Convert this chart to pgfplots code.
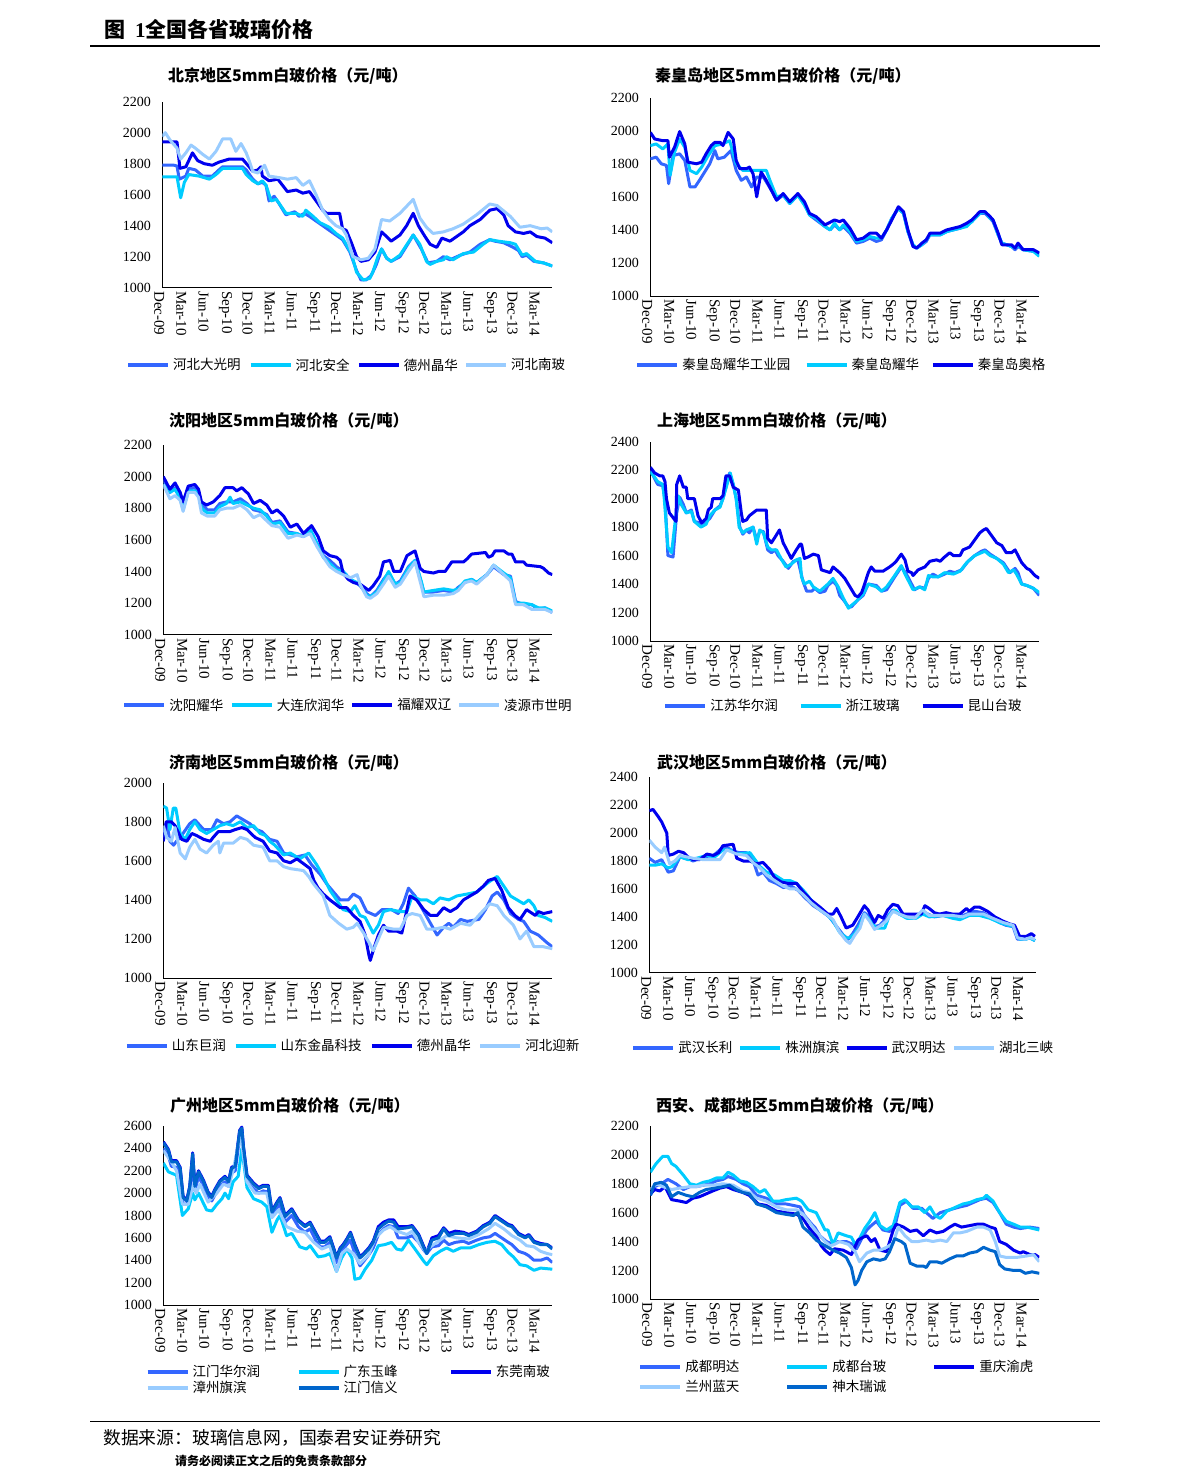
\documentclass[border=0pt]{standalone}
\usepackage{pgfplots}
\pgfplotsset{compat=1.18}
\usepackage{fontspec}
\setmainfont{Liberation Serif}
\newfontfamily\cjk{Noto Sans CJK SC}
\definecolor{cA}{RGB}{51,102,255}
\definecolor{cB}{RGB}{0,204,255}
\definecolor{cC}{RGB}{0,0,238}
\definecolor{cD}{RGB}{153,204,255}
\definecolor{cE}{RGB}{0,102,204}
\newcommand{\lgd}[2]{\makebox[#1][l]{\hspace{3pt}#2}}
\newcommand{\ttl}[1]{{\cjk\bfseries\fontsize{16}{18}\selectfont #1}}
\pgfplotsset{
  glass/.style={
    scale only axis,
    xmin=0, xmax=53, ymin=1000,
    axis x line=bottom, axis y line=left,
    axis line style={-, black, line width=0.8pt},
    major tick length=0pt,
    xtick={0,3,...,51},
    xticklabels={Dec-09,Mar-10,Jun-10,Sep-10,Dec-10,Mar-11,Jun-11,Sep-11,Dec-11,Mar-12,Jun-12,Sep-12,Dec-12,Mar-13,Jun-13,Sep-13,Dec-13,Mar-14},
    xticklabel style={rotate=-90, anchor=west, font=\fontsize{15}{17}\selectfont, yshift=-3pt},
    yticklabel style={font=\fontsize{14}{16}\selectfont, xshift=-8pt},
    /pgf/number format/assume math mode=true,
    /pgf/number format/1000 sep={},
    ytick distance=200,
    legend style={draw=none, fill=none, inner sep=0pt, column sep=0pt, nodes={inner sep=0pt}, anchor=west, font=\cjk\fontsize{13.5}{15}\selectfont},
    legend image code/.code={\draw[##1, line width=4pt] (0pt,0pt) -- (40pt,0pt);},
    every axis plot/.append style={line width=3pt, line join=round, mark=none},
  }
}
\begin{document}
\begin{tikzpicture}[x=1pt,y=1pt]
\useasboundingbox (0,0) rectangle (1191,1468);
% header
\node[anchor=west, inner sep=0pt] at (104,1438) {{\cjk\bfseries\fontsize{21}{23}\selectfont 图\hspace{10pt}}{\bfseries\fontsize{21}{23}\selectfont 1}{\cjk\bfseries\fontsize{21}{23}\selectfont 全国各省玻璃价格}};
\draw[line width=1.5pt] (90,1422) -- (1100,1422);
\draw[line width=0.8pt] (90,47) -- (1100,47);
\node[anchor=west, inner sep=0pt] at (103,30) {\cjk\fontsize{17.8}{19}\selectfont 数据来源：玻璃信息网，国泰君安证券研究};
\node[anchor=south west, inner sep=0pt] at (175,1.5) {\cjk\bfseries\fontsize{12}{13}\selectfont 请务必阅读正文之后的免责条款部分};
% titles
\node[anchor=west, inner sep=0pt] at (168,1392) {\ttl{北京地区5mm白玻价格（元/吨）}};
\node[anchor=west, inner sep=0pt] at (655,1392) {\ttl{秦皇岛地区5mm白玻价格（元/吨）}};
\node[anchor=west, inner sep=0pt] at (169,1047) {\ttl{沈阳地区5mm白玻价格（元/吨）}};
\node[anchor=west, inner sep=0pt] at (657,1047) {\ttl{上海地区5mm白玻价格（元/吨）}};
\node[anchor=west, inner sep=0pt] at (169,705) {\ttl{济南地区5mm白玻价格（元/吨）}};
\node[anchor=west, inner sep=0pt] at (657,705) {\ttl{武汉地区5mm白玻价格（元/吨）}};
\node[anchor=west, inner sep=0pt] at (170,362) {\ttl{广州地区5mm白玻价格（元/吨）}};
\node[anchor=west, inner sep=0pt] at (656,362) {\ttl{西安、成都地区5mm白玻价格（元/吨）}};

% ---------------- Chart 1 Beijing
\begin{axis}[glass, at={(162.3pt,1180.3pt)}, anchor=south west, width=390pt, height=186pt, ymax=2200,
  legend columns=4, legend style={at={(axis description cs:-0.093,-0.416)}}]
\addplot[cA] coordinates {(0,1790)(1.6,1790)(2,1785)(2.3,1700)(3.2,1720)(3.6,1770)(4.5,1760)(5.5,1720)(6.8,1720)(7.7,1760)(8.2,1780)(10.9,1780)(11.4,1760)(12.3,1700)(13,1670)(13.6,1680)(14.1,1660)(14.5,1560)(15.2,1590)(15.9,1540)(16.8,1470)(18,1490)(18.6,1460)(19.3,1480)(20,1460)(20.9,1430)(21.8,1400)(22.7,1370)(23.6,1340)(24.5,1310)(25.5,1230)(26.4,1110)(27,1050)(27.7,1050)(28.4,1080)(29.1,1150)(29.8,1250)(30.5,1190)(31.1,1170)(32.3,1200)(33.6,1300)(34.1,1340)(35.2,1250)(36.1,1160)(37.3,1170)(38.2,1200)(39.1,1180)(40.5,1210)(41.8,1230)(43.2,1280)(44.5,1310)(45.2,1300)(46.4,1290)(47.7,1260)(48.4,1240)(48.9,1200)(49.5,1210)(50.5,1170)(51.8,1160)(53,1140)};
\addlegendentry{\lgd{78.3pt}{河北大光明}}
\addplot[cB] coordinates {(0,1715)(2,1715)(2.5,1580)(3,1680)(3.6,1730)(5,1720)(6.4,1700)(7.3,1730)(8.2,1770)(10.9,1770)(11.4,1730)(12.3,1690)(13,1670)(13.6,1690)(14.1,1660)(14.8,1560)(15.5,1570)(16.8,1480)(18.2,1480)(19.1,1460)(19.5,1500)(20.5,1460)(21.4,1420)(22.7,1390)(23.6,1350)(24.5,1320)(25.7,1220)(26.4,1100)(27.3,1050)(28.2,1060)(28.6,1100)(29.3,1200)(29.8,1250)(30.5,1190)(31.1,1170)(32.3,1210)(33.4,1290)(34.1,1340)(35,1280)(35.9,1170)(36.4,1150)(37.3,1170)(38.2,1180)(38.6,1200)(39.5,1180)(40.9,1220)(42.3,1230)(43.6,1280)(44.5,1310)(45.7,1300)(47.3,1290)(48,1280)(48.9,1210)(49.5,1220)(50.7,1170)(51.8,1160)(53,1140)};
\addlegendentry{\lgd{64.3pt}{河北安全}}
\addplot[cC] coordinates {(0,1940)(2,1940)(2.4,1770)(3.2,1780)(4.1,1870)(4.8,1820)(5.7,1800)(6.8,1790)(7.7,1810)(9.1,1830)(10.9,1830)(11.8,1780)(12.3,1750)(13,1760)(13.4,1780)(13.6,1720)(14.5,1690)(15.7,1700)(17,1620)(18.2,1630)(19.1,1610)(20,1620)(20.9,1560)(21.8,1500)(22.3,1480)(24.1,1480)(24.5,1380)(25,1370)(25.7,1290)(26.4,1200)(27,1170)(28,1180)(28.9,1230)(29.8,1360)(30.7,1320)(31.1,1300)(32.3,1340)(33.2,1400)(34.1,1480)(34.8,1400)(35.7,1330)(36.4,1280)(37.3,1260)(38,1320)(39.1,1300)(40,1330)(40.9,1360)(41.8,1400)(43.2,1440)(44.5,1500)(45.5,1510)(46.4,1470)(47,1400)(48,1360)(49.1,1350)(50,1360)(50.9,1330)(52,1320)(53,1290)};
\addlegendentry{\lgd{63.3pt}{德州晶华}}
\addplot[cD] coordinates {(0,1975)(0.4,2000)(1.1,1950)(2,1900)(2.5,1830)(3.2,1870)(3.9,1920)(4.5,1900)(5.5,1860)(6.4,1830)(7.3,1880)(8.2,1960)(9.3,1960)(10,1880)(10.7,1930)(11.4,1870)(11.8,1820)(12.3,1750)(13,1740)(13.9,1790)(14.5,1720)(15.9,1710)(17,1700)(18.2,1710)(19.1,1660)(20,1690)(20.9,1600)(21.8,1500)(22.7,1440)(23.6,1400)(24.5,1380)(25,1340)(25.9,1200)(27,1180)(28,1190)(28.9,1250)(29.8,1440)(30.9,1430)(32.3,1480)(34.1,1570)(35,1450)(35.9,1390)(36.8,1350)(38.2,1360)(39.5,1380)(40.9,1410)(42.7,1470)(44.5,1540)(45.5,1530)(47.3,1460)(48.6,1390)(50,1400)(51.5,1380)(52.3,1385)(53,1360)};
\addlegendentry{\lgd{57.3pt}{河北南玻}}
\end{axis}

% ---------------- Chart 2 Qinhuangdao
\begin{axis}[glass, at={(650.3pt,1172pt)}, anchor=south west, width=389pt, height=198.3pt, ymax=2200,
  legend columns=3, legend style={at={(axis description cs:-0.039,-0.348)}}]
\addplot[cA] coordinates {(0,1830)(0.8,1840)(1.5,1800)(2.2,1790)(2.5,1680)(3.1,1850)(4,1860)(4.7,1820)(5.4,1660)(6.1,1660)(6.7,1700)(8.1,1800)(8.8,1880)(9.2,1830)(10.1,1840)(11,1880)(11.7,1760)(12.4,1700)(13.1,1720)(13.8,1660)(14.5,1720)(15.4,1720)(16.5,1640)(17.2,1580)(18.1,1610)(19,1560)(20.1,1610)(21,1560)(21.7,1490)(22.6,1460)(23.8,1420)(24.5,1400)(25.1,1430)(25.8,1400)(26.3,1420)(27.2,1380)(28.1,1320)(29,1330)(29.9,1350)(30.8,1330)(31.5,1340)(32.2,1400)(32.9,1470)(33.8,1530)(34.5,1500)(35.1,1390)(35.8,1300)(36.3,1290)(37,1310)(37.6,1330)(38.1,1370)(39.5,1370)(40.4,1390)(42.2,1410)(43.1,1430)(43.8,1450)(44.9,1500)(45.6,1500)(46.3,1470)(46.7,1450)(47.4,1370)(47.9,1320)(49.2,1300)(49.7,1280)(50.1,1300)(50.8,1280)(52.2,1270)(53,1260)};
\addlegendentry{\lgd{125.3pt}{秦皇岛耀华工业园}}
\addplot[cB] coordinates {(0,1910)(0.8,1920)(1.7,1890)(2.4,1920)(2.7,1730)(3.3,1870)(4,1950)(4.7,1900)(5.4,1760)(6.3,1740)(7,1780)(7.9,1850)(8.8,1910)(9.9,1920)(10.8,1940)(11.7,1800)(12.6,1760)(13.5,1760)(15.8,1760)(16.3,1700)(17.2,1600)(18.1,1610)(19,1560)(20.1,1610)(21,1550)(21.7,1490)(22.6,1470)(23.8,1420)(24.5,1400)(25.1,1440)(25.8,1400)(26.3,1430)(27.2,1390)(28.1,1330)(29,1340)(29.9,1360)(30.8,1350)(31.5,1350)(32.2,1400)(32.9,1470)(33.8,1530)(34.5,1500)(35.1,1390)(35.8,1310)(36.3,1290)(37,1310)(37.6,1340)(38.1,1370)(39.5,1370)(40.4,1390)(42.2,1410)(43.1,1420)(43.8,1450)(44.9,1500)(45.6,1510)(46.3,1470)(46.7,1460)(47.4,1370)(47.9,1320)(49.2,1300)(49.7,1290)(50.1,1310)(50.8,1280)(52.2,1270)(53,1240)};
\addlegendentry{\lgd{82.3pt}{秦皇岛耀华}}
\addplot[cC] coordinates {(0,1990)(0.6,1950)(1.7,1940)(2.4,1940)(2.6,1840)(3.3,1900)(4,1995)(4.7,1920)(5.1,1810)(6.3,1800)(7,1810)(7.6,1860)(8.3,1910)(8.8,1930)(9.5,1930)(9.9,1910)(10.6,1990)(11.3,1950)(11.7,1820)(12.2,1770)(13.1,1770)(13.5,1780)(14,1740)(14.5,1600)(15.1,1750)(15.8,1700)(16.5,1640)(17.2,1580)(18.1,1620)(19,1570)(20.1,1620)(21,1570)(21.7,1500)(22.6,1480)(23.8,1430)(25.1,1460)(25.8,1450)(26.3,1460)(27.2,1410)(28.1,1340)(29,1350)(29.9,1380)(30.8,1380)(31.5,1350)(32.2,1400)(32.9,1460)(33.8,1540)(34.5,1510)(35.1,1400)(35.8,1300)(36.3,1290)(37,1320)(37.6,1340)(38.1,1380)(39.5,1380)(40.4,1400)(42.2,1420)(43.1,1440)(43.8,1460)(44.9,1510)(45.6,1510)(46.3,1480)(46.7,1460)(47.4,1380)(47.9,1310)(49.2,1310)(49.7,1290)(50.1,1320)(50.8,1280)(52.2,1280)(53,1260)};
\addlegendentry{\lgd{70.3pt}{秦皇岛奥格}}
\end{axis}

% ---------------- Chart 3 Shenyang
\begin{axis}[glass, at={(163.3pt,833.3pt)}, anchor=south west, width=389pt, height=189.7pt, ymax=2200,
  legend columns=4, legend style={at={(axis description cs:-0.106,-0.371)}}]
\addplot[cA] coordinates {(0,1980)(0.9,1900)(1.6,1930)(2.3,1880)(2.7,1800)(3.4,1920)(4.3,1930)(4.8,1900)(5.2,1830)(6,1790)(7,1790)(7.7,1830)(8.6,1840)(9.5,1840)(10.5,1860)(11.4,1830)(12.3,1790)(13.2,1780)(14.1,1760)(14.8,1710)(15.9,1720)(17,1650)(18.2,1640)(19.1,1620)(20,1660)(20.9,1580)(21.8,1500)(22.7,1470)(23.6,1430)(24.5,1400)(25.5,1350)(26.8,1310)(27.7,1260)(28.2,1240)(29.1,1280)(30,1350)(30.7,1390)(31.6,1320)(32.3,1340)(33.4,1430)(34.3,1470)(35.2,1320)(35.5,1270)(36.8,1270)(38.2,1280)(39.5,1270)(40.2,1300)(41.1,1330)(42,1350)(42.7,1330)(44.1,1380)(45,1430)(46.4,1380)(47.3,1370)(48,1210)(49.1,1190)(50.2,1190)(51.1,1160)(52,1170)(53,1140)};
\addlegendentry{\lgd{63.7pt}{沈阳耀华}}
\addplot[cB] coordinates {(0,1950)(0.9,1900)(1.6,1920)(2.3,1860)(2.7,1790)(3.4,1910)(4.3,1910)(4.8,1890)(5.2,1800)(6,1770)(7,1770)(7.7,1810)(8.6,1830)(9.1,1870)(9.5,1830)(10.5,1840)(11.4,1820)(12.3,1800)(13.2,1790)(14.1,1750)(14.8,1700)(15.9,1710)(17,1640)(18.2,1640)(19.1,1620)(20,1670)(20.9,1580)(21.8,1490)(22.7,1450)(23.6,1410)(24.5,1400)(25.5,1350)(26.8,1320)(27.7,1250)(28.2,1240)(29.1,1270)(30,1340)(30.7,1400)(31.6,1320)(32.3,1330)(33.4,1420)(34.3,1470)(35.2,1330)(35.5,1270)(36.8,1280)(38.2,1290)(39.5,1280)(40.2,1290)(41.1,1340)(42,1350)(42.7,1330)(44.1,1380)(45,1440)(46.4,1390)(47.3,1360)(48,1200)(49.1,1200)(50.2,1190)(51.1,1170)(52,1170)(53,1150)};
\addlegendentry{\lgd{76.3pt}{大连欣润华}}
\addplot[cC] coordinates {(0,2000)(0.9,1920)(1.6,1960)(2.3,1900)(2.7,1840)(3.4,1940)(4.3,1950)(4.8,1920)(5.2,1840)(5.9,1820)(6.8,1840)(7.7,1880)(8.4,1930)(9.5,1930)(10,1910)(10.7,1930)(11.6,1890)(12.3,1830)(13.2,1850)(14.1,1820)(14.8,1770)(15.5,1790)(16.4,1750)(17.3,1680)(18.2,1700)(19.1,1640)(20.2,1690)(21.1,1620)(21.8,1530)(22.7,1500)(23.6,1490)(24.1,1470)(24.5,1390)(25.2,1350)(25.9,1330)(26.8,1320)(28,1280)(28.6,1310)(29.5,1370)(30,1460)(30.9,1470)(31.4,1400)(32.3,1400)(33.2,1500)(33.9,1520)(34.3,1530)(35,1420)(35.5,1400)(36.8,1390)(37.5,1400)(38.4,1400)(39.3,1460)(40.9,1460)(41.4,1480)(42,1510)(43.9,1520)(44.3,1490)(44.8,1500)(45.2,1530)(46.4,1530)(47,1510)(47.5,1510)(48,1460)(49.1,1460)(49.5,1440)(51.4,1430)(51.8,1420)(52.5,1390)(53,1380)};
\addlegendentry{\lgd{62.9pt}{福耀双辽}}
\addplot[cD] coordinates {(0,1950)(0.9,1860)(1.6,1880)(2.3,1850)(2.7,1780)(3.4,1900)(4.3,1900)(4.8,1870)(5.2,1770)(6,1750)(7,1750)(7.7,1790)(8.6,1800)(9.5,1800)(10.5,1820)(11.4,1790)(12.3,1740)(13.2,1760)(14.1,1720)(14.8,1690)(15.9,1680)(17,1610)(18.2,1630)(19.1,1620)(20,1640)(20.9,1560)(21.8,1490)(22.7,1430)(23.6,1400)(24.5,1380)(25.5,1360)(26.4,1380)(26.8,1320)(27.7,1240)(28.2,1230)(29.1,1260)(30,1320)(30.7,1370)(31.6,1300)(32.3,1320)(33.4,1400)(34.3,1460)(35.2,1300)(35.5,1240)(36.8,1250)(38.2,1250)(39.5,1260)(40.2,1280)(41.1,1330)(42,1340)(42.7,1320)(44.1,1380)(45,1440)(46.4,1380)(47.3,1340)(48,1190)(49.1,1190)(50.2,1160)(51.1,1160)(52,1160)(53,1140)};
\addlegendentry{\lgd{68.3pt}{凌源市世明}}
\end{axis}

% ---------------- Chart 4 Shanghai
\begin{axis}[glass, at={(650.3pt,827pt)}, anchor=south west, width=389pt, height=199.3pt, ymax=2400,
  legend columns=3, legend style={at={(axis description cs:0.033,-0.326)}}]
\addplot[cA] coordinates {(0,2200)(0.6,2140)(1,2100)(1.7,2090)(2,2000)(2.4,1600)(3.1,1590)(3.6,1900)(4,2010)(4.5,1960)(4.9,1900)(5.6,1920)(6,1840)(6.7,1830)(7.2,1810)(7.6,1840)(8.1,1860)(8.8,1920)(9.5,1950)(9.9,2000)(10.8,2180)(11.3,2100)(11.7,2000)(12.2,1800)(12.6,1750)(13.1,1780)(13.5,1760)(14,1800)(14.5,1710)(14.9,1770)(15.4,1770)(16,1640)(16.5,1620)(17,1640)(17.4,1600)(18.1,1560)(18.8,1510)(19.5,1560)(20.1,1570)(20.8,1420)(21.3,1350)(22,1350)(22.4,1370)(23.1,1340)(23.8,1350)(24.2,1390)(24.9,1420)(25.4,1390)(25.8,1320)(26.3,1290)(27,1240)(27.4,1240)(28.3,1290)(29,1320)(29.7,1400)(30.8,1390)(31.5,1350)(32.2,1360)(33.3,1450)(34.2,1520)(34.9,1470)(35.6,1400)(36,1360)(36.7,1380)(37.4,1370)(37.9,1440)(38.5,1470)(39.2,1450)(40.1,1470)(40.8,1490)(41.5,1480)(42.4,1500)(43.3,1560)(44.2,1600)(45.1,1630)(45.6,1640)(46.3,1610)(47.2,1580)(48.1,1550)(49,1480)(49.7,1510)(50.1,1480)(50.6,1400)(51.3,1390)(52.2,1370)(53,1320)};
\addlegendentry{\lgd{91.3pt}{江苏华尔润}}
\addplot[cB] coordinates {(0,2190)(0.6,2150)(1,2120)(1.7,2100)(1.9,2000)(2.4,1660)(2.9,1620)(3.3,1800)(3.8,2020)(4.2,1960)(4.9,1900)(5.6,1910)(6,1840)(6.9,1800)(7.6,1820)(8.1,1880)(8.8,1920)(9.5,1940)(9.9,2000)(10.9,2180)(11.3,2100)(11.7,2000)(12.1,1800)(12.6,1760)(13.1,1780)(14,1800)(14.5,1680)(14.9,1780)(15.4,1760)(16,1660)(16.5,1640)(17.2,1640)(17.9,1570)(18.5,1520)(19.2,1540)(19.9,1570)(20.4,1580)(20.6,1450)(21,1400)(21.7,1420)(22.2,1380)(23.1,1350)(24.2,1400)(24.9,1440)(25.6,1380)(26.3,1300)(27,1230)(27.4,1250)(28.1,1280)(29,1330)(29.7,1400)(30.8,1380)(31.5,1350)(32.2,1380)(33.3,1460)(34.2,1530)(34.7,1470)(35.4,1400)(35.8,1360)(36.7,1380)(37.4,1360)(37.9,1460)(38.5,1450)(39.2,1450)(40.1,1480)(41.3,1470)(42.2,1490)(43.1,1550)(44.2,1600)(45.1,1620)(45.6,1630)(46.3,1600)(47.2,1580)(48.1,1540)(48.8,1480)(49.5,1500)(49.9,1470)(50.6,1400)(51.3,1390)(52.2,1370)(53,1340)};
\addlegendentry{\lgd{78pt}{浙江玻璃}}
\addplot[cC] coordinates {(0,2220)(0.6,2180)(1.3,2160)(1.7,2160)(2,2120)(2.2,2000)(2.6,1900)(3.2,1860)(3.5,1840)(3.6,2100)(4,2160)(4.5,2080)(4.9,2080)(5.1,2000)(6,2000)(6.5,1880)(7,1830)(7.6,1860)(7.9,1920)(8.3,1940)(8.5,2000)(9.5,2000)(9.9,2020)(10.3,2160)(10.8,2160)(11.3,2080)(12,2060)(12.4,1900)(12.6,1840)(13.1,1850)(13.5,1880)(14,1900)(14.5,1920)(15.8,1920)(16,1720)(16.5,1690)(17,1730)(17.6,1780)(18.1,1690)(18.5,1650)(19.2,1580)(19.9,1640)(20.4,1680)(20.6,1680)(21,1580)(21.5,1590)(22.2,1610)(22.9,1600)(23.3,1500)(24.5,1480)(24.9,1520)(25.8,1480)(26.5,1440)(27.2,1380)(27.9,1320)(28.3,1310)(28.8,1340)(29.2,1400)(29.7,1480)(30.1,1520)(30.6,1490)(31.7,1490)(32.6,1520)(33.1,1540)(33.5,1560)(34.2,1610)(34.7,1570)(35.1,1490)(35.6,1480)(35.8,1460)(36.5,1500)(37.4,1520)(38.1,1560)(39,1570)(39.5,1560)(40.1,1590)(40.8,1620)(41.3,1600)(42.2,1600)(42.6,1640)(43.5,1660)(44.2,1710)(44.9,1760)(45.4,1780)(45.8,1790)(46.5,1740)(47.2,1690)(47.9,1670)(48.5,1620)(49.2,1620)(49.7,1640)(50.1,1600)(50.6,1550)(51.3,1510)(51.7,1500)(52.4,1460)(53,1440)};
\addlegendentry{\lgd{54.3pt}{昆山台玻}}
\end{axis}

% ---------------- Chart 5 Jinan
\begin{axis}[glass, at={(163.3pt,490pt)}, anchor=south west, width=389pt, height=195.3pt, ymax=2000,
  legend columns=4, legend style={at={(axis description cs:-0.099,-0.348)}}]
\addplot[cA] coordinates {(0,1720)(0.45,1800)(0.9,1700)(1.4,1680)(1.8,1700)(2.5,1730)(3.6,1790)(4.3,1810)(5.5,1760)(6.6,1760)(7.3,1810)(8.2,1790)(9.1,1800)(10,1830)(10.9,1810)(11.8,1790)(12.7,1760)(13.4,1750)(14.5,1710)(15.5,1700)(16.4,1640)(17.3,1630)(18.2,1620)(19.3,1630)(20.2,1580)(21.4,1530)(22.3,1480)(23.2,1440)(24.1,1400)(25.2,1400)(25.9,1430)(26.8,1410)(27.7,1340)(28.9,1320)(29.8,1350)(31.1,1350)(32,1330)(32.7,1380)(33.4,1460)(34.3,1420)(35.2,1360)(36.4,1280)(37.3,1220)(38.2,1260)(38.9,1280)(39.5,1260)(40.5,1300)(41.4,1290)(43,1300)(43.9,1350)(44.8,1420)(45.5,1440)(46.4,1400)(47.3,1330)(48.4,1300)(49.1,1290)(50,1240)(51.1,1220)(52.3,1180)(53,1160)};
\addlegendentry{\lgd{64.6pt}{山东巨润}}
\addplot[cB] coordinates {(0,1880)(0.45,1870)(0.9,1760)(1.36,1870)(1.7,1870)(2.3,1740)(3,1710)(3.6,1760)(4.3,1800)(5,1760)(5.9,1740)(6.8,1760)(7.7,1780)(8.6,1790)(9.5,1780)(10.5,1800)(11.4,1770)(12.3,1780)(13.2,1740)(13.9,1730)(14.5,1700)(15.2,1680)(16.4,1630)(17.3,1640)(18.6,1610)(19.8,1640)(20.9,1580)(21.8,1520)(22.7,1450)(23.6,1400)(24.5,1350)(25.5,1340)(26.1,1370)(26.8,1320)(27.5,1310)(28.6,1230)(29.3,1270)(30,1340)(30.9,1350)(32.3,1340)(33.2,1340)(33.9,1420)(35,1400)(35.9,1400)(36.8,1380)(37.7,1410)(38.9,1400)(40,1420)(41.4,1430)(42.7,1440)(44.3,1490)(45.5,1520)(46.4,1470)(47.3,1420)(48.2,1400)(49.1,1380)(49.8,1400)(50.5,1370)(51.1,1320)(52,1310)(53,1290)};
\addlegendentry{\lgd{92.3pt}{山东金晶科技}}
\addplot[cC] coordinates {(0,1700)(0.4,1800)(1.1,1800)(1.6,1780)(2.5,1710)(3.2,1700)(3.9,1740)(4.5,1730)(5.5,1710)(6.4,1700)(6.8,1720)(7.5,1750)(9.1,1750)(9.8,1760)(10.7,1770)(11.4,1760)(12.5,1720)(13.6,1700)(14.5,1650)(15.5,1640)(16.4,1600)(17.3,1590)(18.2,1610)(19.3,1580)(20,1560)(20.5,1500)(21.1,1460)(21.8,1430)(22.7,1400)(24.1,1360)(25,1360)(25.9,1320)(26.8,1290)(27.5,1220)(28,1120)(28.2,1090)(28.6,1140)(29.3,1220)(30,1270)(30.7,1240)(31.8,1240)(32.5,1230)(33.2,1350)(33.6,1420)(34.5,1400)(35.5,1350)(36.4,1320)(37.3,1320)(38.2,1360)(39.1,1340)(40,1360)(40.9,1400)(41.8,1420)(42.7,1440)(43.6,1470)(44.3,1500)(45.2,1510)(46.1,1450)(47,1360)(47.9,1320)(48.6,1300)(49.5,1350)(50.7,1320)(51.1,1340)(51.8,1330)(53,1340)};
\addlegendentry{\lgd{64.6pt}{德州晶华}}
\addplot[cD] coordinates {(0,1780)(0.45,1720)(1.1,1700)(1.6,1770)(2.3,1640)(3,1610)(3.6,1670)(4.3,1710)(5,1660)(5.9,1640)(6.8,1680)(7.5,1700)(7.7,1640)(8.2,1690)(9.5,1690)(10.5,1720)(11.4,1710)(12.3,1680)(13.6,1670)(14.5,1600)(15.5,1600)(16.4,1570)(17.3,1560)(19.1,1550)(19.8,1520)(20.5,1480)(21.8,1420)(22.7,1320)(23.9,1280)(25,1250)(25.9,1260)(26.4,1280)(27.3,1230)(28.2,1170)(28.6,1140)(29.3,1200)(30,1260)(31.4,1250)(32.3,1250)(33.2,1320)(33.9,1330)(35,1320)(35.9,1250)(36.8,1250)(38.2,1260)(39.1,1250)(40.5,1280)(41.8,1270)(43.2,1330)(44.5,1380)(45.5,1370)(46.4,1320)(47.7,1270)(48.6,1200)(49.5,1240)(50.5,1160)(51.8,1160)(53,1150)};
\addlegendentry{\lgd{54.3pt}{河北迎新}}
\end{axis}

% ---------------- Chart 6 Wuhan
\begin{axis}[glass, at={(649.3pt,495.3pt)}, anchor=south west, width=386.4pt, height=195.4pt, ymax=2400,
  legend columns=4, legend style={at={(axis description cs:-0.047,-0.385)}}]
\addplot[cA] coordinates {(0,1820)(0.8,1790)(1.7,1810)(2.6,1720)(3.3,1730)(4.2,1830)(5.6,1810)(6,1800)(7.4,1830)(8.8,1840)(9.7,1880)(10.6,1900)(11.5,1870)(12.4,1860)(13.3,1860)(14.2,1810)(14.9,1700)(15.6,1720)(16.5,1660)(17.4,1640)(18.4,1610)(19.5,1620)(20.4,1590)(21.3,1540)(22.5,1480)(23.4,1450)(24.7,1400)(25.7,1330)(26.6,1270)(27.3,1240)(27.9,1280)(28.6,1340)(29.5,1430)(30.2,1400)(30.9,1330)(31.6,1340)(32.5,1390)(33.4,1450)(34.3,1420)(35.3,1400)(36.2,1390)(36.8,1400)(37.5,1440)(38.2,1420)(39.1,1400)(40.3,1410)(41.6,1400)(42.6,1400)(43.5,1420)(44.6,1440)(45.8,1430)(47.1,1390)(48,1360)(48.9,1340)(49.9,1330)(50.5,1240)(51.5,1240)(52.2,1250)(52.9,1230)};
\addlegendentry{\lgd{63pt}{武汉长利}}
\addplot[cB] coordinates {(0,1770)(0.8,1770)(1.7,1780)(2.6,1750)(3.1,1760)(4.2,1830)(5.3,1810)(6.5,1820)(7.9,1840)(9,1830)(10.1,1880)(11.1,1880)(12,1850)(13.8,1860)(14.5,1810)(15.2,1760)(16.1,1720)(17.2,1700)(18.4,1660)(19.3,1660)(20.2,1640)(21.3,1580)(22.5,1500)(23.4,1450)(24.3,1420)(25.2,1370)(26.1,1290)(27,1250)(27.5,1250)(28.2,1280)(28.9,1340)(29.5,1420)(30.2,1380)(31.1,1320)(32.3,1320)(33,1420)(33.7,1450)(34.3,1420)(35.3,1390)(36.6,1390)(37.5,1420)(38.4,1400)(40.3,1410)(41.6,1390)(42.6,1380)(43.9,1410)(45.3,1410)(46.7,1390)(48,1360)(49.2,1340)(50.1,1330)(50.8,1240)(51.7,1240)(52.1,1250)(52.9,1230)};
\addlegendentry{\lgd{62.3pt}{株洲旗滨}}
\addplot[cC] coordinates {(0,2160)(0.5,2170)(1.2,2120)(1.7,2080)(2.4,2000)(2.6,1840)(3.3,1850)(4,1870)(4.7,1860)(5.3,1830)(6,1810)(6.9,1810)(7.9,1850)(8.8,1840)(9.5,1860)(10.1,1910)(11.5,1920)(12,1820)(12.9,1800)(13.8,1800)(14.7,1780)(15.6,1790)(16.5,1740)(17.2,1680)(18.1,1650)(19,1640)(20.2,1640)(21.1,1580)(22.2,1520)(23.4,1470)(24.5,1420)(25.2,1420)(25.7,1460)(26.3,1400)(27,1320)(27.9,1340)(28.6,1400)(29.5,1480)(30,1450)(30.9,1360)(31.4,1410)(32.1,1390)(32.7,1450)(33.4,1490)(34.1,1480)(34.8,1420)(35.9,1420)(36.8,1420)(37.3,1420)(37.8,1480)(38.4,1460)(39.1,1430)(39.8,1420)(40.7,1430)(41.6,1420)(42.6,1420)(43.5,1460)(43.9,1440)(44.6,1470)(45.3,1470)(46.4,1440)(47.4,1400)(48.5,1370)(49.4,1350)(50.1,1340)(50.8,1260)(51.7,1260)(52.4,1280)(52.9,1260)};
\addlegendentry{\lgd{63.6pt}{武汉明达}}
\addplot[cD] coordinates {(0,1950)(0.8,1900)(1.7,1860)(2.1,1900)(2.8,1780)(3.5,1800)(4.2,1840)(6,1820)(7.4,1810)(8.8,1810)(9.7,1810)(10.6,1880)(12,1850)(13.3,1840)(14.2,1790)(15.2,1750)(16.1,1700)(17.2,1660)(18.4,1620)(19.3,1600)(20.2,1600)(21.1,1560)(22.2,1500)(23.4,1450)(24.5,1410)(25.2,1380)(26.1,1290)(27,1230)(27.5,1210)(28.2,1270)(28.9,1320)(29.5,1420)(30.2,1370)(30.9,1310)(31.8,1340)(32.5,1370)(33.4,1440)(34.3,1420)(35.3,1400)(36.4,1390)(37.5,1450)(38.4,1410)(40.3,1410)(41.6,1410)(43,1400)(43.9,1420)(45.8,1420)(47.1,1390)(48.5,1360)(49.9,1340)(50.5,1250)(51.5,1240)(52.2,1250)(52.9,1240)};
\addlegendentry{\lgd{55.3pt}{湖北三峡}}
\end{axis}

% ---------------- Chart 7 Guangzhou
\begin{axis}[glass, at={(163.3pt,163pt)}, anchor=south west, width=389pt, height=179pt, ymax=2600,
  legend columns=3, legend style={at={(axis description cs:-0.046,-0.417)}, row sep=3pt}]
\addplot[cA] coordinates {(0,2400)(0.7,2330)(1.1,2240)(1.8,2230)(2.3,2170)(2.7,1900)(3.2,1900)(3.6,2000)(4,2300)(4.3,2020)(4.8,2150)(5.5,2060)(6.1,1960)(6.6,1930)(7,1980)(7.7,2060)(8.4,2100)(8.9,2060)(9.3,2180)(9.8,2200)(10.4,2500)(10.7,2550)(10.9,2380)(11.4,2100)(12.3,2040)(13,2000)(13.6,2020)(14.3,2010)(14.8,1790)(15.5,1870)(15.9,1900)(16.6,1740)(17.5,1800)(18.4,1700)(19.3,1650)(20,1680)(20.9,1560)(21.4,1520)(22,1520)(22.7,1560)(23.6,1380)(24.1,1470)(24.5,1500)(25,1540)(25.5,1580)(26.1,1460)(26.8,1350)(27.3,1390)(28,1450)(28.6,1510)(29.3,1630)(30,1680)(30.7,1710)(31.4,1700)(32,1600)(33.2,1600)(33.9,1620)(34.8,1560)(35.5,1490)(35.9,1460)(36.6,1520)(37.5,1530)(38.2,1580)(38.9,1540)(39.8,1560)(40.9,1570)(41.6,1550)(42.7,1580)(43.6,1600)(44.5,1610)(45.2,1640)(46.1,1600)(47,1560)(47.5,1540)(48.4,1480)(49.3,1460)(49.8,1440)(50.5,1400)(51.4,1400)(52.3,1420)(53,1380)};
\addlegendentry{\lgd{107pt}{江门华尔润}}
\addplot[cB] coordinates {(0,2270)(0.7,2190)(1.8,2160)(2.6,1800)(3.4,1860)(4,2000)(4.3,1940)(4.8,2000)(5.9,1850)(6.6,1840)(7.3,1900)(8,1950)(8.4,2000)(8.9,1950)(9.5,2100)(10.2,2150)(10.7,2400)(11.4,2050)(12.3,1950)(13.4,1920)(14.1,1880)(14.8,1650)(15.5,1760)(15.9,1800)(16.8,1620)(17.5,1640)(18.6,1520)(19.5,1500)(20,1530)(21.1,1430)(22,1440)(22.7,1460)(23.6,1300)(24.3,1420)(25,1500)(25.7,1420)(26.1,1230)(26.8,1240)(27.5,1320)(28.4,1400)(29.3,1530)(30.2,1540)(31.1,1560)(31.8,1500)(32.5,1490)(33.4,1580)(34.3,1500)(35.5,1390)(35.9,1360)(36.8,1440)(37.7,1480)(38.6,1510)(39.5,1480)(40.5,1510)(41.8,1510)(43,1540)(44.1,1560)(45.2,1570)(46.1,1540)(47,1470)(47.7,1430)(48.6,1360)(49.5,1350)(50.5,1310)(51.4,1330)(53,1320)};
\addlegendentry{\lgd{108.3pt}{广东玉峰}}
\addplot[cC] coordinates {(0,2460)(0.7,2390)(1.1,2290)(1.8,2290)(2.3,2230)(2.7,1970)(3.2,1940)(3.6,2060)(4,2360)(4.3,2070)(4.8,2200)(5.5,2110)(6.1,2010)(6.6,1970)(7,2030)(7.7,2110)(8.4,2150)(8.9,2110)(9.3,2230)(9.8,2250)(10.4,2560)(10.7,2590)(10.9,2430)(11.4,2160)(12.3,2090)(13,2050)(13.6,2070)(14.3,2070)(14.8,1840)(15.5,1920)(15.9,1960)(16.6,1800)(17.5,1860)(18.4,1760)(19.3,1710)(20,1740)(20.9,1630)(21.4,1570)(22,1570)(22.7,1610)(23.6,1430)(24.1,1510)(24.5,1540)(25,1590)(25.5,1650)(26.1,1540)(26.8,1430)(27.3,1460)(28,1510)(28.6,1570)(29.3,1700)(30,1740)(30.7,1760)(31.4,1760)(32,1700)(33.2,1700)(33.9,1710)(34.8,1630)(35.5,1520)(35.9,1470)(36.6,1600)(37.5,1620)(38.2,1690)(38.9,1640)(39.8,1660)(40.9,1650)(41.6,1630)(42.7,1660)(43.6,1710)(44.5,1740)(45.2,1800)(46.1,1760)(47,1720)(47.5,1710)(48.4,1640)(49.3,1610)(49.8,1630)(50.5,1570)(51.4,1550)(52.3,1540)(53,1510)};
\addlegendentry{\lgd{54.3pt}{东莞南玻}}
\addplot[cD] coordinates {(0,2380)(0.9,2300)(1.8,2200)(2.6,1900)(3.4,1900)(4.1,2080)(4.5,2000)(5,2080)(6.1,1920)(7.3,2000)(8.2,2080)(8.9,2060)(9.5,2200)(10.5,2520)(11.4,2100)(12.5,2000)(14.1,2000)(14.8,1780)(15.7,1850)(16.8,1700)(18.2,1660)(19.3,1650)(20.5,1560)(21.6,1500)(22.7,1530)(23.6,1300)(24.3,1460)(25,1500)(25.9,1460)(26.8,1370)(28,1450)(28.9,1600)(30,1670)(30.9,1700)(31.8,1660)(33.2,1630)(33.9,1660)(34.8,1560)(35.7,1480)(36.6,1530)(37.7,1580)(38.6,1620)(40,1600)(41.6,1590)(43,1630)(44.3,1680)(45.2,1730)(46.4,1680)(47.5,1620)(48.6,1580)(49.5,1530)(50.5,1520)(51.4,1480)(52.3,1460)(53,1450)};
\addlegendentry{\lgd{107pt}{漳州旗滨}}
\addplot[cE] coordinates {(0,2450)(0.7,2380)(1.1,2280)(1.8,2280)(2.3,2220)(2.7,1960)(3.2,1930)(3.6,2050)(4,2350)(4.3,2060)(4.8,2190)(5.5,2100)(6.1,2000)(6.6,1960)(7,2020)(7.7,2100)(8.4,2140)(8.9,2100)(9.3,2220)(9.8,2240)(10.4,2550)(10.7,2580)(10.9,2420)(11.4,2150)(12.3,2080)(13,2040)(13.6,2060)(14.3,2060)(14.8,1830)(15.5,1910)(15.9,1950)(16.6,1790)(17.5,1850)(18.4,1750)(19.3,1700)(20,1730)(20.9,1620)(21.4,1560)(22,1560)(22.7,1600)(23.6,1420)(24.1,1500)(24.5,1530)(25,1580)(25.5,1640)(26.1,1530)(26.8,1420)(27.3,1450)(28,1500)(28.6,1560)(29.3,1680)(30,1720)(30.7,1750)(31.4,1740)(32,1680)(33.2,1690)(33.9,1700)(34.8,1620)(35.5,1510)(35.9,1460)(36.6,1580)(37.5,1600)(38.2,1680)(38.9,1620)(39.8,1640)(40.9,1640)(41.6,1620)(42.7,1650)(43.6,1700)(44.5,1730)(45.2,1790)(46.1,1750)(47,1710)(47.5,1700)(48.4,1630)(49.3,1600)(49.8,1620)(50.5,1560)(51.4,1540)(52.3,1540)(53,1500)};
\addlegendentry{\lgd{108.3pt}{江门信义}}
\end{axis}

% ---------------- Chart 8 Xi'an / Chengdu
\begin{axis}[glass, at={(650.3pt,168.7pt)}, anchor=south west, width=389pt, height=173.3pt, ymax=2200,
  legend columns=3, legend style={at={(axis description cs:-0.031,-0.447)}, row sep=7pt}]
\addplot[cA] coordinates {(0,1720)(0.6,1780)(1.5,1800)(2.4,1830)(3.5,1800)(4.5,1760)(5.4,1780)(6.3,1780)(7.2,1790)(8.1,1800)(9,1820)(9.9,1830)(10.6,1850)(11.7,1830)(12.6,1800)(13.5,1780)(14.5,1720)(15.8,1700)(17.2,1660)(18.5,1660)(19.5,1650)(20.4,1640)(21,1580)(22,1520)(22.4,1500)(23.1,1440)(24,1400)(24.9,1380)(25.6,1400)(26.7,1400)(27.6,1380)(28.1,1350)(29,1440)(29.5,1480)(30.1,1510)(30.8,1540)(31.7,1480)(32.6,1470)(33.3,1500)(34,1650)(34.9,1680)(35.8,1630)(37,1630)(37.6,1600)(38.5,1560)(39.5,1600)(40.8,1620)(42.2,1640)(43.1,1650)(44,1670)(44.9,1690)(45.8,1700)(46.7,1670)(47.6,1600)(48.5,1520)(49.5,1500)(50.4,1490)(51.7,1500)(53,1490)};
\addlegendentry{\lgd{103pt}{成都明达}}
\addplot[cB] coordinates {(0,1880)(0.8,1940)(1.7,1990)(2.4,1990)(2.9,1940)(3.5,1920)(4.5,1860)(5.4,1800)(6.3,1790)(7.2,1810)(8.1,1820)(9,1840)(9.9,1840)(10.6,1880)(11.3,1860)(12.2,1820)(13.1,1810)(14,1780)(14.9,1740)(15.6,1760)(16.7,1680)(17.6,1680)(18.5,1690)(19.9,1700)(20.6,1680)(21.5,1620)(22.6,1600)(23.1,1550)(23.8,1480)(24.2,1480)(24.9,1380)(25.6,1460)(26.7,1440)(27.4,1430)(27.9,1380)(28.5,1420)(29.2,1490)(29.9,1540)(30.6,1600)(31.3,1510)(32.2,1480)(33.1,1510)(34,1670)(34.7,1690)(35.6,1640)(36.5,1640)(37.4,1600)(38.1,1640)(38.8,1580)(39.5,1560)(40.4,1610)(41.7,1640)(42.6,1660)(43.5,1670)(44.5,1690)(45.4,1700)(45.8,1720)(46.7,1680)(47.6,1600)(48.5,1540)(49.5,1520)(50.4,1500)(51.3,1500)(53,1480)};
\addlegendentry{\lgd{102.9pt}{成都台玻}}
\addplot[cC] coordinates {(0,1730)(0.6,1760)(1.3,1750)(2,1780)(2.9,1690)(4,1680)(4.9,1670)(5.8,1700)(6.7,1710)(7.6,1730)(8.5,1750)(9.5,1770)(10.4,1780)(11.3,1760)(12.6,1740)(13.5,1720)(14.7,1660)(15.8,1650)(17.2,1610)(18.5,1600)(19.9,1590)(20.8,1560)(21.7,1490)(22.6,1440)(23.3,1370)(23.8,1340)(24.5,1310)(25.1,1350)(26.3,1340)(27.4,1310)(28.3,1410)(29,1430)(29.5,1440)(30.1,1400)(30.6,1420)(31.3,1340)(32.2,1330)(33.1,1480)(33.5,1520)(34.5,1500)(35.4,1470)(36.3,1480)(37.2,1440)(38.1,1480)(39,1460)(39.9,1470)(40.8,1500)(41.5,1520)(42.4,1500)(43.5,1510)(44.5,1520)(45.4,1520)(46.3,1500)(47,1490)(47.6,1400)(48.5,1380)(49.5,1340)(50.4,1320)(50.8,1330)(51.7,1310)(52.4,1310)(53,1290)};
\addlegendentry{\lgd{63.3pt}{重庆渝虎}}
\addplot[cD] coordinates {(0,1760)(0.8,1800)(1.7,1780)(2.9,1760)(4,1770)(5.4,1780)(6.3,1780)(7.2,1790)(8.5,1790)(9.9,1800)(11.3,1790)(12.6,1750)(13.5,1740)(14.5,1700)(15.8,1680)(17.2,1640)(18.5,1620)(19.9,1620)(20.8,1590)(21.7,1530)(22.6,1470)(23.8,1400)(24.5,1370)(25.1,1380)(25.8,1400)(27,1380)(27.9,1330)(28.5,1260)(29.5,1320)(30.4,1340)(31.3,1340)(32.2,1360)(33.1,1390)(33.8,1500)(34.7,1440)(35.6,1400)(36.5,1400)(37.6,1410)(38.5,1400)(39.5,1410)(40.4,1400)(41.3,1460)(42.2,1460)(43.1,1470)(44.5,1500)(45.4,1500)(46.3,1480)(47,1400)(47.6,1300)(48.5,1290)(49.9,1290)(51.3,1300)(52.2,1310)(53,1260)};
\addlegendentry{\lgd{103pt}{兰州蓝天}}
\addplot[cE] coordinates {(0,1720)(0.6,1800)(1.5,1810)(2.2,1790)(2.9,1710)(3.8,1740)(4.9,1720)(5.8,1710)(6.7,1740)(7.6,1760)(8.8,1770)(9.9,1780)(10.8,1790)(11.7,1760)(12.6,1740)(13.5,1730)(14.5,1660)(15.8,1640)(17.2,1600)(18.3,1590)(19.5,1580)(20.1,1600)(20.8,1500)(21.7,1460)(22.6,1410)(23.5,1380)(24.2,1360)(24.9,1340)(25.8,1320)(26.7,1290)(27.4,1220)(27.9,1100)(28.3,1130)(28.8,1200)(29.5,1260)(30.4,1280)(31.3,1270)(32,1280)(32.6,1330)(33.3,1420)(34.2,1400)(34.7,1380)(35.4,1250)(36.3,1230)(37.2,1230)(37.6,1220)(38.1,1260)(39,1260)(39.7,1250)(40.8,1280)(41.7,1300)(42.6,1300)(43.5,1320)(44.5,1330)(45.4,1360)(46.3,1340)(47,1330)(47.6,1240)(48.3,1210)(49.5,1200)(50.4,1200)(51.1,1180)(52,1190)(53,1180)};
\addlegendentry{\lgd{102.9pt}{神木瑞诚}}
\end{axis}
\end{tikzpicture}
\end{document}
